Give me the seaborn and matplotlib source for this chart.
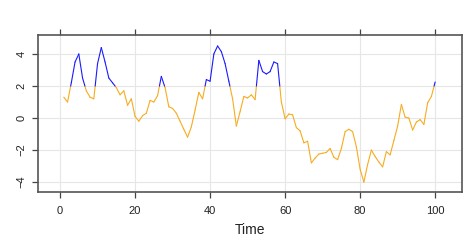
import numpy as np
import pandas as pd
import matplotlib
matplotlib.use("Agg")
import matplotlib.pyplot as plt
import seaborn as sns

# ---- data ----
time = list(range(1, 101))
values = [
    1.3, 1.0, 2.2, 3.5, 4.0, 2.5, 1.7, 1.3, 1.2, 3.4,
    4.4, 3.5, 2.5, 2.2, 1.9, 1.45, 1.7, 0.8, 1.2, 0.1,
    -0.2, 0.15, 0.3, 1.1, 1.0, 1.4, 2.6, 1.9, 0.7, 0.6,
    0.3, -0.2, -0.7, -1.2, -0.55, 0.5, 1.6, 1.2, 2.4, 2.3,
    4.0, 4.5, 4.15, 3.4, 2.3, 1.2, -0.5, 0.4, 1.35, 1.25,
    1.45, 1.15, 3.6, 2.9, 2.75, 2.9, 3.5, 3.4, 1.0, -0.05,
    0.25, 0.2, -0.6, -0.8, -1.55, -1.45, -2.8, -2.5, -2.25, -2.2,
    -2.15, -1.9, -2.45, -2.6, -1.9, -0.85, -0.7, -0.85, -1.8, -3.2,
    -4.0, -2.9, -2.0, -2.4, -2.75, -3.05, -2.1, -2.3, -1.4, -0.5,
    0.85, 0.05, 0.0, -0.75, -0.25, -0.1, -0.4, 0.95, 1.35, 2.25,
]
threshold = 2.0
x_ticks = [0, 20, 40, 60, 80, 100]
y_ticks = [-4, -2, 0, 2, 4]

# ---- split the series into runs above / below the threshold ----
xs, ys = [time[0]], [values[0]]
for i in range(1, len(values)):
    y0, y1 = values[i - 1], values[i]
    if (y0 - threshold) * (y1 - threshold) < 0:
        f = (threshold - y0) / (y1 - y0)
        xs.append(time[i - 1] + f * (time[i] - time[i - 1]))
        ys.append(threshold)
    xs.append(time[i])
    ys.append(values[i])

rows = []
seg = 0
for i in range(1, len(xs)):
    mid = (ys[i - 1] + ys[i]) / 2
    cls = "above" if mid > threshold else "below"
    seg += 1
    rows.append((xs[i - 1], ys[i - 1], cls, seg))
    rows.append((xs[i], ys[i], cls, seg))
df = pd.DataFrame(rows, columns=["t", "v", "cls", "seg"])

sns.set_style("white")
plt.rcParams["font.family"] = ["Liberation Sans", "DejaVu Sans"]

fig = plt.figure(figsize=(4.74, 2.46), dpi=100)
ax = fig.add_axes([0.080, 0.2195, 0.895, 0.6385])

ax.set_xlim(-5.9, 107.2)
ax.set_ylim(-4.62, 5.19)
ax.set_xticks(x_ticks)
ax.set_yticks(y_ticks)
ax.grid(True, color="#e6e6e6", linewidth=0.8)
ax.set_axisbelow(True)

sns.lineplot(data=df, x="t", y="v", hue="cls", units="seg", estimator=None,
             sort=False, palette={"above": "#1a1aff", "below": "#f7ac1e"},
             linewidth=0.8, legend=False, ax=ax)

ax.set_xlabel("Time", fontsize=10, color="#222222", labelpad=5)
ax.set_ylabel("")
for s in ax.spines.values():
    s.set_color("#555555")
    s.set_linewidth(1.2)
ax.tick_params(axis="both", which="both", direction="out", length=4,
               width=0.9, color="#444444", labelsize=8, labelcolor="#222222")
ax.tick_params(axis="x", top=True, labeltop=False, bottom=True, pad=6)
ax.tick_params(axis="y", left=True, right=False, pad=4)
for lab in ax.get_yticklabels():
    lab.set_rotation(90)
    lab.set_va("center")

fig.savefig("out.png", dpi=100, facecolor="white")
